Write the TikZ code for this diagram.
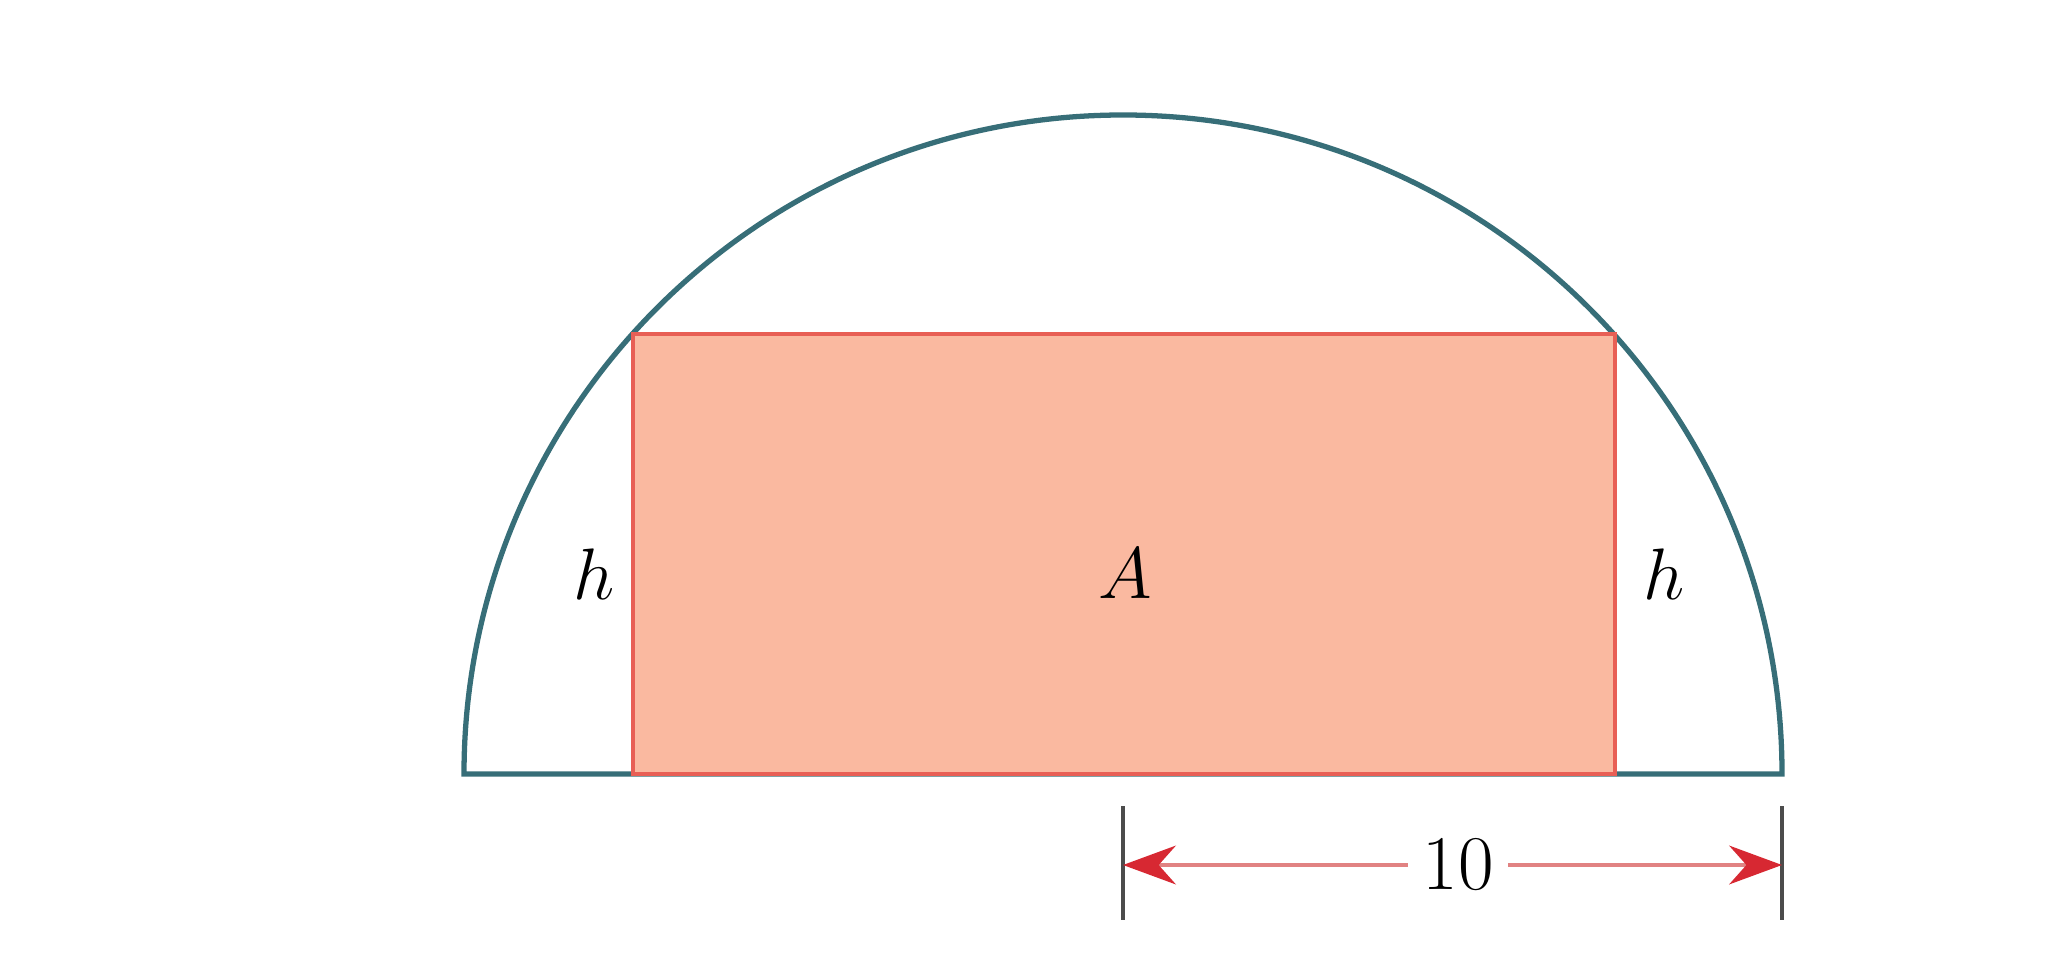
\documentclass[tikz,border=0pt]{standalone}
\usetikzlibrary{arrows.meta}
\definecolor{arcline}{RGB}{55,110,120}
\definecolor{rectfill}{RGB}{250,185,160}
\definecolor{rectline}{RGB}{232,95,85}
\definecolor{dimline}{RGB}{225,130,130}
\definecolor{dimtip}{RGB}{215,40,50}
\tikzset{
	lab/.style={font=\fontsize{22}{26}\selectfont},
	dimarrow/.style={draw=dimline,line width=1.2pt,-{Stealth[length=15pt,width=11pt,color=dimtip]}}
}
\begin{document}
\begin{tikzpicture}[x=0.01cm,y=0.01cm]
	\useasboundingbox (0,0) rectangle (2046,960);
	\coordinate (o) at (1123,186);
	\coordinate (bl) at (633,186);
	\coordinate (tr) at (1615,626);
	% half circle
	\draw[arcline,line width=1.5pt] (464,186) arc (180:0:659) -- cycle;
	\filldraw[fill=rectfill,draw=rectline,line width=0.9pt] (bl) rectangle (tr);
	\node[lab] (a) at (1125,386) {$A$};
	\node[lab] (hl) at (594,386) {$h$};
	\node[lab] (hr) at (1664,386) {$h$};
	% dimension
	\coordinate (dl) at (1123,95);
	\coordinate (dr) at (1782,95);
	\draw[black!70,line width=0.9pt] (1123,154) -- (1123,40);
	\draw[black!70,line width=0.9pt] (1782,154) -- (1782,40);
	\node[lab,fill=white,inner sep=4pt] (ten) at (1458,95) {10};
	\draw[dimarrow] (ten) -- (dl);
	\draw[dimarrow] (ten) -- (dr);
\end{tikzpicture}
\end{document}
